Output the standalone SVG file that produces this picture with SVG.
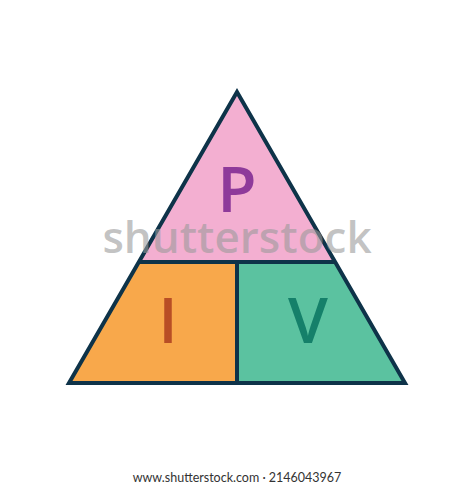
<svg xmlns="http://www.w3.org/2000/svg" width="474" height="489" viewBox="0 0 474 489">
<style>
.edge{stroke:#0e3349;stroke-width:4;stroke-linejoin:miter;fill:none}
.lbl{font-family:"Open Sans","Liberation Sans",sans-serif;font-size:64px;font-weight:600;text-anchor:middle}
</style>
<rect width="474" height="489" fill="#ffffff"/>
<g id="node-P">
<polygon points="237,92 139.5,262 334.5,262" fill="#f3afd1"/>
<text class="lbl" x="237" y="212" fill="#8e3a9a">P</text>
</g>
<g id="node-I">
<polygon points="139.5,262 237,262 237,383 69,383" fill="#f8a84b"/>
<text class="lbl" x="168" y="343" fill="#b84e25">I</text>
</g>
<g id="node-V">
<polygon points="237,262 334.5,262 405,383 237,383" fill="#5bc2a0"/>
<text class="lbl" x="308" y="343" fill="#15806a">V</text>
</g>
<g id="connectors">
<polygon class="edge" points="237,92 405,383 69,383"/>
<line class="edge" x1="139.5" y1="262" x2="334.5" y2="262"/>
<line class="edge" x1="237" y1="262" x2="237" y2="383"/>
</g>
<text x="237" y="253" font-family="Open Sans, Liberation Sans, sans-serif" font-size="44" font-weight="600" fill="#9a9a9a" fill-opacity="0.6" text-anchor="middle">shutterstock</text>
<text x="237" y="482" font-family="Lato, Liberation Sans, sans-serif" font-size="12.5" fill="#333333" text-anchor="middle">www.shutterstock.com · 2146043967</text>
</svg>
